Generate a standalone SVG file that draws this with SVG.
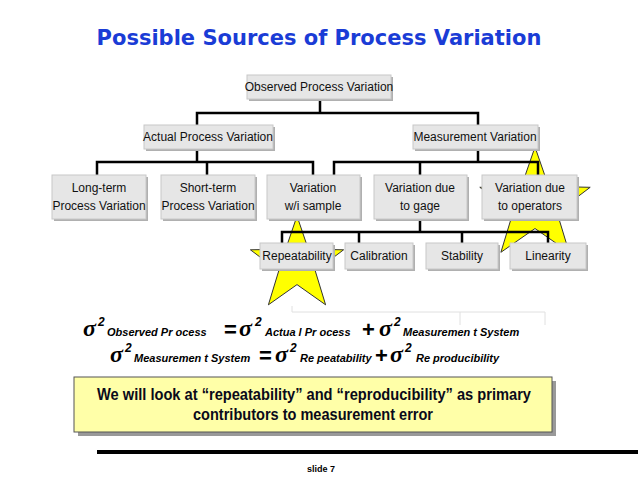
<svg xmlns="http://www.w3.org/2000/svg" width="638" height="478" viewBox="0 0 638 478">
<style>
.b{fill:#e6e6e6;stroke:#c8c8c8;stroke-width:1}
.s{fill:#b0b0b0}
.t{font-family:"Liberation Sans",Arial,sans-serif;font-size:12px;fill:#111;text-anchor:middle}
.c{fill:none;stroke:#000;stroke-width:2.5}
.star{fill:#ffff00;stroke:#333;stroke-width:1}
.sg{font-family:"Liberation Serif",serif;font-style:italic;font-weight:bold;font-size:24px}
.sb{font-family:"Liberation Sans",sans-serif;font-style:italic;font-weight:bold;font-size:11px}
.sp{font-family:"Liberation Sans",sans-serif;font-style:italic;font-weight:bold;font-size:12px}
.eq{font-family:"Liberation Sans",sans-serif;font-weight:bold;font-size:22px}
.nt{font-family:"Liberation Sans",sans-serif;font-weight:bold;font-size:17px;fill:#0a0a1a}
</style>
<rect width="638" height="478" fill="#fff"/>
<text x="319" y="45" text-anchor="middle" font-family="DejaVu Sans,sans-serif" font-weight="bold" font-size="21" fill="#1a3cd6">Possible Sources of Process Variation</text>
<polygon class="star" points="297,216 308.3,249.2 343.6,249.8 315.3,271.0 325.6,304.8 297,284.6 268.4,304.8 278.7,271.0 250.4,249.8 285.7,249.2"/>
<polygon class="star" points="535,147 548.6,186.4 590.2,187.3 557.0,212.4 569.1,252.3 535,228.5 500.9,252.3 513.0,212.4 479.8,187.3 521.4,186.4"/>
<g id="connectors">
<path class="c" d="M320,99V113M197,125V113H478V125"/>
<path class="c" d="M197,149V162M97,175V162H313V175M207,162V175"/>
<path class="c" d="M478,149V162M334,175V162H538V175M420,162V175"/>
<path class="c" d="M420,220V232M282,243V232H548V243M359,232V243M462,232V243"/>
</g>
<g id="n1"><rect class="s" x="249" y="77" width="144" height="24"/><rect class="b" x="247" y="75" width="144" height="24"/><text class="t" x="319" y="91">Observed Process Variation</text></g>
<g id="n2"><rect class="s" x="146" y="127" width="129" height="24"/><rect class="b" x="144" y="125" width="129" height="24"/><text class="t" x="208" y="141">Actual Process Variation</text></g>
<g id="n3"><rect class="s" x="415" y="127" width="125" height="24"/><rect class="b" x="413" y="125" width="125" height="24"/><text class="t" x="475" y="141">Measurement Variation</text></g>
<g id="n4"><rect class="s" x="54" y="177" width="94" height="44"/><rect class="b" x="52" y="175" width="94" height="44"/><text class="t" x="99" y="192">Long-term</text><text class="t" x="99" y="210">Process Variation</text></g>
<g id="n5"><rect class="s" x="163" y="177" width="94" height="44"/><rect class="b" x="161" y="175" width="94" height="44"/><text class="t" x="208" y="192">Short-term</text><text class="t" x="208" y="210">Process Variation</text></g>
<g id="n6"><rect class="s" x="269" y="177" width="93" height="44"/><rect class="b" x="267" y="175" width="93" height="44"/><text class="t" x="313" y="192">Variation</text><text class="t" x="313" y="210">w/i sample</text></g>
<g id="n7"><rect class="s" x="376" y="177" width="93" height="44"/><rect class="b" x="374" y="175" width="93" height="44"/><text class="t" x="420" y="192">Variation due</text><text class="t" x="420" y="210">to gage</text></g>
<g id="n8"><rect class="s" x="484" y="177" width="95" height="44"/><rect class="b" x="482" y="175" width="95" height="44"/><text class="t" x="530" y="192">Variation due</text><text class="t" x="530" y="210">to operators</text></g>
<g id="n9"><rect class="s" x="262" y="245" width="73" height="26"/><rect class="b" x="260" y="243" width="73" height="26"/><text class="t" x="297" y="260">Repeatability</text></g>
<g id="n10"><rect class="s" x="347" y="245" width="68" height="26"/><rect class="b" x="345" y="243" width="68" height="26"/><text class="t" x="379" y="260">Calibration</text></g>
<g id="n11"><rect class="s" x="428" y="245" width="72" height="26"/><rect class="b" x="426" y="243" width="72" height="26"/><text class="t" x="462" y="260">Stability</text></g>
<g id="n12"><rect class="s" x="512" y="245" width="76" height="26"/><rect class="b" x="510" y="243" width="76" height="26"/><text class="t" x="548" y="260">Linearity</text></g>
<path d="M292,306V312M292,312H545M460,312V325M545,312V325" stroke="#e0e0e0" fill="none"/>
<text y="336"><tspan class="sg" x="83">σ</tspan><tspan class="sp" x="98" y="326">2</tspan><tspan class="sb" x="107" y="336">Observed </tspan><tspan class="sb" font-style="normal">Pr</tspan><tspan class="sb"> ocess</tspan></text>
<text class="eq" x="224" y="337">=</text>
<text y="336"><tspan class="sg" x="239">σ</tspan><tspan class="sp" x="255" y="326">2</tspan><tspan class="sb" x="265" y="336">Actua  l </tspan><tspan class="sb" font-style="normal">Pr</tspan><tspan class="sb"> ocess</tspan></text>
<text class="eq" x="362" y="337">+</text>
<text y="336"><tspan class="sg" x="379">σ</tspan><tspan class="sp" x="394" y="326">2</tspan><tspan class="sb" x="403" y="336">Measuremen t System</tspan></text>
<text y="362"><tspan class="sg" x="110">σ</tspan><tspan class="sp" x="125" y="352">2</tspan><tspan class="sb" x="134" y="362">Measuremen t System</tspan></text>
<text class="eq" x="259" y="363">=</text>
<text y="362"><tspan class="sg" x="275">σ</tspan><tspan class="sp" x="290" y="352">2</tspan><tspan class="sb" x="300" y="362" font-style="normal">Re</tspan><tspan class="sb"> peatability</tspan></text>
<text class="eq" x="375" y="363">+</text>
<text y="362"><tspan class="sg" x="390">σ</tspan><tspan class="sp" x="405" y="352">2</tspan><tspan class="sb" x="416" y="362" font-style="normal">Re</tspan><tspan class="sb"> producibility</tspan></text>
<g id="note"><rect x="78" y="381" width="478" height="55" fill="#999"/><rect x="74" y="377" width="478" height="55" fill="#ffffa8" stroke="#555" stroke-width="1"/>
<text class="nt" x="97" y="400" textLength="434" lengthAdjust="spacingAndGlyphs">We will look at “repeatability” and “reproducibility” as primary</text>
<text class="nt" x="193" y="420" textLength="240" lengthAdjust="spacingAndGlyphs">contributors to measurement error</text></g>
<line x1="97" y1="452" x2="638" y2="452" stroke="#000" stroke-width="4"/>
<text x="321" y="472" text-anchor="middle" font-family="Liberation Sans,sans-serif" font-weight="bold" font-size="9">slide  7</text>
</svg>
